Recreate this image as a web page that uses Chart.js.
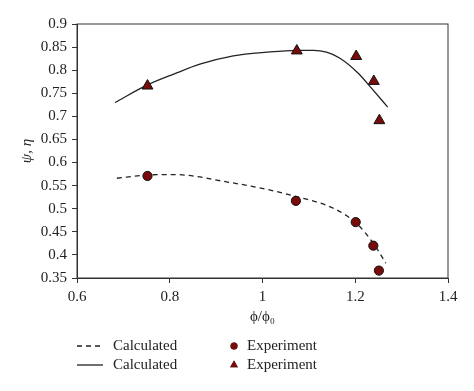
<!DOCTYPE html>
<html>
<head>
<meta charset="utf-8">
<script src="https://cdn.jsdelivr.net/npm/chart.js@4/dist/chart.umd.min.js"></script>
<style>
    body { margin: 0; background: #fff; }
    canvas { display: block; }
</style>
</head>
<body>
<canvas id="chart" width="474" height="391"></canvas>
<script>
// Calculated curves
const solidX = [0.682, 0.752, 0.81, 0.865, 0.937, 1.009, 1.074, 1.11, 1.138, 1.167, 1.207, 1.235, 1.27];
const solidY = [0.730, 0.768, 0.792, 0.813, 0.831, 0.839, 0.843, 0.843, 0.839, 0.826, 0.793, 0.761, 0.720];

const dashedX = [0.686, 0.75, 0.808, 0.865, 0.901, 0.99, 1.074, 1.153, 1.203, 1.239, 1.266];
const dashedY = [0.566, 0.573, 0.574, 0.569, 0.562, 0.546, 0.526, 0.501, 0.468, 0.425, 0.382];

// Experiment points
const circleX = [0.752, 1.072, 1.201, 1.239, 1.251];
const circleY = [0.571, 0.517, 0.471, 0.420, 0.366];

const triangleX = [0.752, 1.074, 1.202, 1.240, 1.252];
const triangleY = [0.766, 0.842, 0.830, 0.776, 0.691];

const xTicks = [0.6, 0.8, 1, 1.2, 1.4];

const toPoints = (xs, ys) => xs.map((x, i) => ({ x, y: ys[i] }));

const serif = "'Liberation Serif', 'DejaVu Serif', serif";
const markerFill = '#7a0b0b';

// frame around the plot area
const framePlugin = {
    id: 'frame',
    afterDatasetsDraw(chart) {
        const { ctx, chartArea: a } = chart;
        ctx.save();
        ctx.strokeStyle = '#333';
        ctx.lineWidth = 1;
        ctx.strokeRect(a.left, a.top, a.right - a.left, a.bottom - a.top);
        ctx.restore();
    },
};

// two-column legend under the axis
const legendPlugin = {
    id: 'twoColLegend',
    afterDraw(chart) {
        const { ctx, chartArea: a } = chart;
        const ds = chart.data.datasets;
        const rows = [a.bottom + 68, a.bottom + 87];
        const col1 = a.left;
        const col2 = a.left + 156;
        ctx.save();
        ctx.font = '15px ' + serif;
        ctx.fillStyle = '#222';
        ctx.textBaseline = 'middle';

        // line samples
        [ds[0], ds[2]].forEach((d, i) => {
            ctx.beginPath();
            ctx.setLineDash(d.borderDash || []);
            ctx.strokeStyle = d.borderColor;
            ctx.lineWidth = d.borderWidth;
            ctx.moveTo(col1, rows[i]);
            ctx.lineTo(col1 + 26, rows[i]);
            ctx.stroke();
            ctx.setLineDash([]);
            ctx.fillText(d.label, col1 + 36, rows[i]);
        });

        // marker samples
        [ds[1], ds[3]].forEach((d, i) => {
            Chart.helpers.drawPoint(ctx, {
                pointStyle: d.pointStyle,
                radius: d.pointStyle === 'triangle' ? 4.5 : 3.5,
                borderWidth: 0,
                rotation: 0,
            }, col2 + 1, rows[i]);
            ctx.fillStyle = markerFill;
            ctx.fill();
            ctx.fillStyle = '#222';
            ctx.fillText(d.label, col2 + 14, rows[i]);
        });
        ctx.restore();
    },
};

new Chart(document.getElementById('chart'), {
    type: 'scatter',
    data: {
        datasets: [
            {
                label: 'Calculated',
                data: toPoints(dashedX, dashedY),
                showLine: true,
                borderColor: '#222',
                borderWidth: 1.3,
                borderDash: [5, 4],
                pointRadius: 0,
                cubicInterpolationMode: 'monotone',
                order: 2,
            },
            {
                label: 'Experiment',
                data: toPoints(circleX, circleY),
                pointStyle: 'circle',
                pointRadius: 4.6,
                backgroundColor: markerFill,
                borderColor: '#111',
                borderWidth: 1,
                order: 1,
            },
            {
                label: 'Calculated',
                data: toPoints(solidX, solidY),
                showLine: true,
                borderColor: '#222',
                borderWidth: 1.3,
                pointRadius: 0,
                cubicInterpolationMode: 'monotone',
                order: 2,
            },
            {
                label: 'Experiment',
                data: toPoints(triangleX, triangleY),
                pointStyle: 'triangle',
                pointRadius: 6.3,
                backgroundColor: markerFill,
                borderColor: '#111',
                borderWidth: 1,
                order: 1,
            },
        ],
    },
    options: {
        responsive: false,
        animation: false,
        layout: { padding: { top: 24, right: 26, bottom: 63, left: 0 } },
        plugins: {
            legend: { display: false },
            tooltip: { enabled: false },
        },
        scales: {
            x: {
                type: 'linear',
                min: 0.6,
                max: 1.4,
                afterBuildTicks: (scale) => { scale.ticks = xTicks.map((v) => ({ value: v })); },
                afterFit: (scale) => { scale.height = 50; },
                ticks: {
                    font: { family: serif, size: 15 },
                    color: '#222',
                    padding: 5,
                    maxRotation: 0,
                    callback: (v) => String(Math.round(v * 100) / 100),
                },
                grid: { drawOnChartArea: false, tickLength: 5, color: '#333' },
                border: { color: '#333' },
                title: {
                    display: true,
                    text: 'ϕ/ϕ₀',
                    font: { family: serif, size: 15 },
                    color: '#222',
                    padding: { top: 0, bottom: 2 },
                },
            },
            y: {
                min: 0.35,
                max: 0.9,
                afterFit: (scale) => { scale.width = 77; },
                ticks: {
                    stepSize: 0.05,
                    font: { family: serif, size: 15 },
                    color: '#222',
                    padding: 5,
                    callback: (v) => String(Math.round(v * 100) / 100),
                },
                grid: { drawOnChartArea: false, tickLength: 5, color: '#333' },
                border: { color: '#333' },
                title: {
                    display: true,
                    text: 'ψ, η',
                    font: { family: serif, size: 15, style: 'italic' },
                    color: '#222',
                    padding: { top: 18, bottom: 0 },
                },
            },
        },
    },
    plugins: [framePlugin, legendPlugin],
});
</script>
</body>
</html>
